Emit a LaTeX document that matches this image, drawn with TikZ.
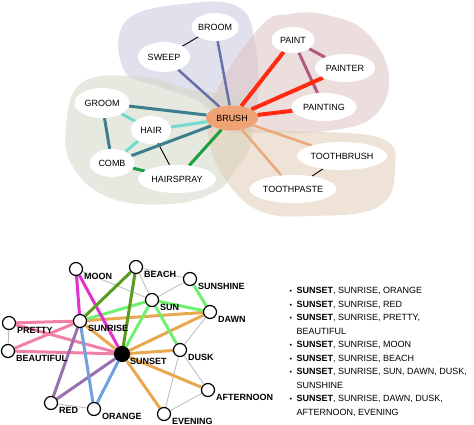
\documentclass[tikz,border=0pt]{standalone}
\usepackage{fontspec}
\setmainfont{Liberation Sans}
\usetikzlibrary{shapes.geometric}
\pgfdeclarelayer{blobs}
\pgfdeclarelayer{links}
\pgfsetlayers{blobs,links,main}

\definecolor{lavblob}{HTML}{C6C8DD}
\definecolor{pinkblob}{HTML}{DFC3C3}
\definecolor{sageblob}{HTML}{D2D7C5}
\definecolor{tanblob}{HTML}{E0CCB4}
\definecolor{brushfill}{HTML}{EFA273}
\definecolor{broomblue}{HTML}{6670AA}
\definecolor{darkteal}{HTML}{3D7F8C}
\definecolor{lightteal}{HTML}{72DCCC}
\definecolor{spraygreen}{HTML}{1A9E40}
\definecolor{paintred}{HTML}{FF2A10}
\definecolor{mauve}{HTML}{B05A80}
\definecolor{toothtan}{HTML}{EBA878}
\definecolor{moonpink}{HTML}{E030D0}
\definecolor{olive}{HTML}{5A9A20}
\definecolor{sungreen}{HTML}{70F070}
\definecolor{dayorange}{HTML}{E8A850}
\definecolor{rosepink}{HTML}{F080A8}
\definecolor{redpurple}{HTML}{9A70B0}
\definecolor{skyblue}{HTML}{70A0E0}

\newcommand{\bul}{\makebox[7pt][l]{\scriptsize\textbullet}}

\begin{document}
\begin{tikzpicture}[x=1pt, y=-1pt,
  word/.style={ellipse, fill=white, inner xsep=-10pt, inner ysep=0pt, minimum height=28pt, font=\fontsize{9}{10}\selectfont},
  spot/.style={circle, draw, line width=1.2pt, fill=white, minimum size=13pt, inner sep=0pt},
  tag/.style={anchor=west, inner sep=0pt, font=\bfseries\fontsize{9}{10}\selectfont},
  blob/.style={opacity=0.55},
  thin link/.style={draw=black, line width=0.9pt},
  gray link/.style={draw=black!28, line width=0.8pt},
  fat link/.style={line width=3pt}]
\useasboundingbox (0,0) rectangle (474,425);

% word groups around BRUSH
\node[word, fill=brushfill, minimum width=52pt, minimum height=25pt] (brush) at (232,118) {BRUSH};
\node[word, minimum width=47pt] (broom) at (215,27) {BROOM};
\node[word, minimum width=52pt, minimum height=30pt] (sweep) at (164,57) {SWEEP};
\node[word, minimum width=55pt, minimum height=30pt] (groom) at (102,103) {GROOM};
\node[word, minimum width=40pt] (hair) at (151,130) {HAIR};
\node[word, minimum width=45pt] (comb) at (112,163) {COMB};
\node[word, minimum width=78pt] (hairspray) at (177,179) {HAIRSPRAY};
\node[word, minimum width=43pt, minimum height=26pt] (paint) at (293,40) {PAINT};
\node[word, minimum width=60pt] (painter) at (345,68) {PAINTER};
\node[word, minimum width=65pt] (painting) at (324,107) {PAINTING};
\node[word, minimum width=90pt] (toothbrush) at (342,156) {TOOTHBRUSH};
\node[word, minimum width=87pt] (toothpaste) at (293,189) {TOOTHPASTE};

\begin{pgfonlayer}{blobs}
\fill[lavblob, blob] plot[smooth cycle, tension=0.7] coordinates {(127,20) (193,3) (240,8) (255,43) (258,95) (250,130) (225,128) (200,102) (160,87) (124,70)};
\fill[pinkblob, blob] plot[smooth cycle, tension=0.7] coordinates {(215,95) (260,27) (290,14) (327,15) (367,33) (389,77) (373,117) (327,131) (273,133) (220,128)};
\fill[sageblob, blob] plot[smooth cycle, tension=0.7] coordinates {(83,82) (143,77) (193,90) (245,100) (252,140) (233,173) (215,192) (170,204) (110,198) (73,167) (66,127)};
\fill[tanblob, blob] plot[smooth cycle, tension=0.7] coordinates {(212,112) (250,128) (293,131) (380,138) (395,168) (378,207) (310,216) (260,211) (227,182) (210,145)};
\end{pgfonlayer}

\begin{pgfonlayer}{links}
\path[thin link] (sweep) edge (broom) (hair) edge (hairspray) (toothbrush) edge (toothpaste);
\path[draw=broomblue, line width=2.5pt] (broom) edge (brush) (sweep) edge (brush);
\path[draw=darkteal, line width=3pt] (groom) edge (brush) (groom) edge (comb) (comb) edge (brush);
\path[draw=lightteal, line width=3pt] (groom) edge (hair) (hair) edge (brush) (hair) edge (comb);
\path[draw=spraygreen, line width=3pt] (comb) edge (hairspray) (hairspray) edge (brush);
\path[draw=mauve, line width=3pt] (paint) edge (painter) (paint) edge (painting);
\path[draw=paintred, line width=4pt] (paint) edge (brush) (painter) edge (brush) (painting) edge (brush);
\path[draw=toothtan, line width=2.5pt] (toothbrush) edge (brush) (toothpaste) edge (brush);
\end{pgfonlayer}

% word graph around SUNSET
\foreach \n/\x/\y/\t in {moon/76/269/MOON, beach/136/267/BEACH, sunshine/190/279/SUNSHINE,
    sun/152/300/SUN, dawn/210/312/DAWN, sunrise/80/321/SUNRISE, pretty/9/323/PRETTY,
    beautiful/8/351/BEAUTIFUL, dusk/180/350/DUSK, afternoon/208/390/AFTERNOON,
    red/51/403/RED, orange/94/409/ORANGE, evening/164/414/EVENING}{
  \node[spot] (\n) at (\x,\y) {};
  \node[tag] at (\x+8,\y+7) {\t};
}
\node[spot, fill=black, minimum size=15pt] (sunset) at (122,354) {};
\node[tag] at (130,361) {SUNSET};

\begin{pgfonlayer}{links}
\path[gray link] (pretty) edge (beautiful) (red) edge (orange) (moon) edge (sun)
  (beach) edge (sun) (beach) edge (sunshine) (sunshine) edge (sun) (dawn) edge (dusk)
  (dusk) edge (evening) (dusk) edge (afternoon) (evening) edge (afternoon);
\path[fat link, draw=rosepink] (pretty) edge (sunrise) (pretty) edge (sunset)
  (beautiful) edge (sunrise) (beautiful) edge (sunset);
\path[fat link, draw=redpurple] (sunrise) edge (red) (red) edge (sunset);
\path[fat link, draw=skyblue] (sunrise) edge (orange) (orange) edge (sunset);
\path[fat link, draw=dayorange] (sunrise) edge (dawn) (sunrise) edge (sunset) (sunset) edge (dawn)
  (sunset) edge (dusk) (sunset) edge (afternoon) (sunset) edge (evening);
\path[fat link, draw=sungreen] (sunrise) edge (sun) (sun) edge (dawn) (sun) edge (sunset)
  (sun) edge (dusk) (sunshine) edge (dawn);
\path[fat link, draw=moonpink] (moon) edge (sunrise) (moon) edge (sunset);
\path[fat link, draw=olive] (beach) edge (sunrise) (beach) edge (sunset);
\end{pgfonlayer}

\node[anchor=north west, inner sep=0pt, align=left, font=\fontsize{9}{13.5}\selectfont] (list) at (289.5,287.5) {%
\bul\textbf{SUNSET}, SUNRISE, ORANGE\\
\bul\textbf{SUNSET}, SUNRISE, RED\\
\bul\textbf{SUNSET}, SUNRISE, PRETTY,\\
\hspace*{7pt}BEAUTIFUL\\
\bul\textbf{SUNSET}, SUNRISE, MOON\\
\bul\textbf{SUNSET}, SUNRISE, BEACH\\
\bul\textbf{SUNSET}, SUNRISE, SUN, DAWN, DUSK,\\
\hspace*{7pt}SUNSHINE\\
\bul\textbf{SUNSET}, SUNRISE, DAWN, DUSK,\\
\hspace*{7pt}AFTERNOON, EVENING};
\end{tikzpicture}
\end{document}
